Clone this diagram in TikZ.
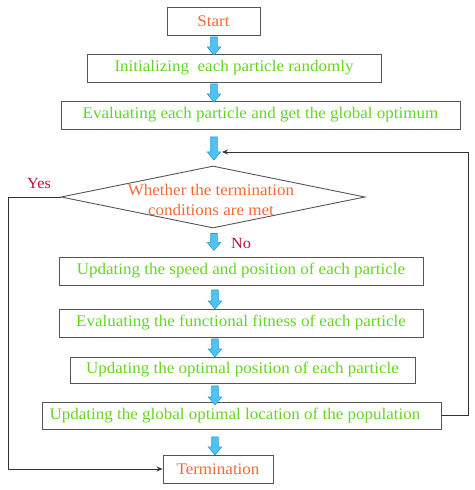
\documentclass[tikz,border=0pt]{standalone}
\usepackage{fontspec}
\setmainfont[FakeStretch=1.05]{Liberation Serif}
\usetikzlibrary{shapes.geometric,shapes.arrows,arrows.meta,calc}
\definecolor{txtgreen}{HTML}{66D622}
\definecolor{txtorange}{HTML}{F06A35}
\definecolor{txtred}{HTML}{C0103A}
\definecolor{arrfill}{HTML}{4FC3F7}
\definecolor{arrline}{HTML}{2E9AD8}
\definecolor{boxline}{HTML}{555555}
\begin{document}
\begin{tikzpicture}[x=1pt,y=-1pt,
  box/.style={draw=boxline, line width=0.9pt, fill=white, inner sep=0pt,
    font=\fontsize{16.2}{18}\selectfont, text=txtgreen},
  obox/.style={box, text=txtorange},
  barrow/.style={single arrow, draw=arrline, fill=arrfill, line width=0.6pt,
    rotate=-90, inner sep=3pt, single arrow head extend=3.5pt,
    single arrow tip angle=80, anchor=center},
  conn/.style={draw=black!80, line width=0.8pt},
  lbl/.style={font=\fontsize{15.5}{17}\selectfont, text=txtred, inner sep=0pt}]
\useasboundingbox (0,0) rectangle (474,490);
\node[obox, minimum width=93pt, minimum height=28pt] (start) at (213.5,21) {Start};
\node[box, minimum width=294pt, minimum height=28pt] (init) at (234,68) {Initializing\ \ each particle randomly};
\node[box, minimum width=399pt, minimum height=28pt] (eval) at (260.5,115) {Evaluating each particle and get the global optimum};
\node[draw=boxline, line width=0.9pt, diamond, minimum width=304pt, minimum height=62pt, inner sep=0pt] (cond) at (213,197) {};
\node[align=center, text=txtorange, font=\fontsize{16.2}{20}\selectfont, inner sep=0pt] (condtxt) at (211,200) {Whether the termination\\conditions are met};
\node[box, minimum width=364pt, minimum height=28pt] (speed) at (241,271) {Updating the speed and position of each particle};
\node[box, minimum width=364pt, minimum height=28pt] (fit) at (241,323) {Evaluating the functional fitness of each particle};
\node[box, minimum width=345pt, minimum height=26pt] (opt) at (242.5,370) {Updating the optimal position of each particle};
\node[box, minimum width=399pt, minimum height=27pt] (glob) at (241.5,415.5) {Updating the global optimal location of the population\hspace*{13pt}};
\node[obox, minimum width=110pt, minimum height=28pt] (term) at (218,469) {Termination};
% block arrows
\node[barrow, minimum height=18pt] (a1) at (214,44) {};
\node[barrow, minimum height=18pt] (a2) at (214,91) {};
\node[barrow, minimum height=23pt] (a3) at (214,146.5) {};
\node[barrow, minimum height=17pt] (a4) at (214,240) {};
\node[barrow, minimum height=19pt] (a5) at (215,297.5) {};
\node[barrow, minimum height=18pt] (a6) at (215,346) {};
\node[barrow, minimum height=19pt] (a7) at (215,393.5) {};
\node[barrow, minimum height=18pt] (a8) at (215,444) {};
% labels
\node[lbl] (yes) at (39,183) {Yes};
\node[lbl] (no) at (241,243) {No};
% connectors
\coordinate (fbr) at (468,152);
\coordinate (fbtip) at (222,152);
\coordinate (fbl) at (8,197);
\draw[conn, -{Stealth[length=6pt,width=5pt]}] (glob.east) -| (fbr) -- (fbtip);
\draw[conn, -{Stealth[length=6pt,width=5pt]}] (cond.west) -- (fbl) |- (term.west);
\end{tikzpicture}
\end{document}
